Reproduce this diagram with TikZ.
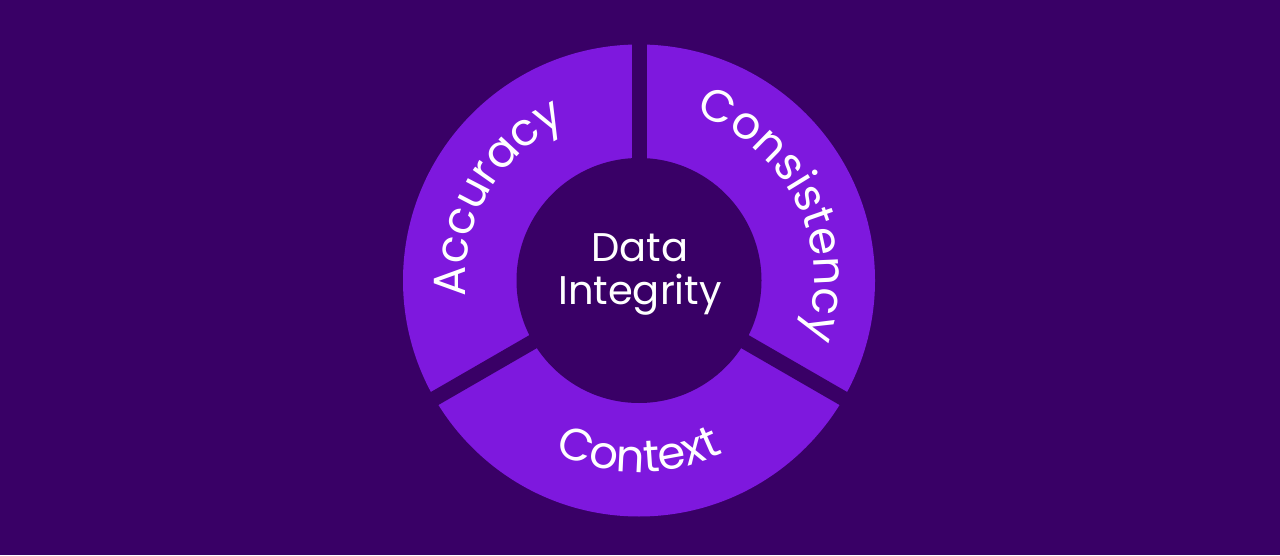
\documentclass[tikz,border=0pt]{standalone}
\usepackage{fontspec}
\setmainfont{Poppins}
\usetikzlibrary{decorations.text}
\definecolor{bgpurple}{RGB}{57,0,102}
\definecolor{ringpurple}{RGB}{126,24,222}
\newcommand\ringlabelfont{\fontsize{45}{45}\selectfont\color{white}}
\tikzset{
  ringlabel/.style={decorate, decoration={text along path, text align=center, text={|\ringlabelfont|#1}}},
  gapline/.style={draw=bgpurple, line width=15pt},
  centerlabel/.style={text=white, align=center, font=\fontsize{40}{43}\selectfont, inner sep=0pt}
}
\begin{document}
\begin{tikzpicture}[x=1pt,y=1pt]
\fill[bgpurple] (0,0) rectangle (1280,555);
\useasboundingbox (0,0) rectangle (1280,555);
\coordinate (c) at (639,274.5);
\fill[ringpurple] (c) circle[radius=236pt];
\foreach \a in {90,210,330} \path[gapline] (c) -- ++(\a:250pt);
\fill[bgpurple] (c) circle[radius=122.5pt];
\node[centerlabel] (title) at (640,281) {Data\\Integrity};
\begin{scope}[shift={(c)}]
  \path[ringlabel=Accuracy] (210:174pt) arc[start angle=210, end angle=90, radius=174pt];
  \path[ringlabel=Consistency] (86:175pt) arc[start angle=86, end angle=-34, radius=175pt];
  \path[ringlabel=Context] (210:192pt) arc[start angle=210, end angle=330, radius=192pt];
\end{scope}
\end{tikzpicture}
\end{document}
